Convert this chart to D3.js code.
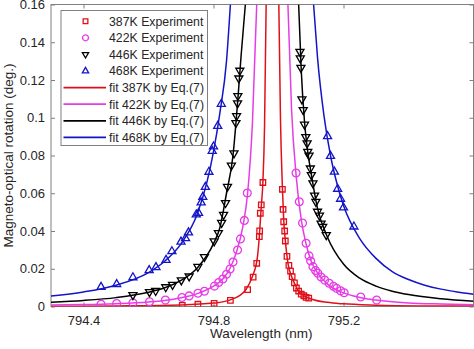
<!DOCTYPE html>
<html>
<head>
<meta charset="utf-8">
<script src="https://cdn.jsdelivr.net/npm/d3@7"></script>
<style>
  body { margin: 0; background: #fff; }
  svg { font-family: "Liberation Sans", Arial, sans-serif; }
</style>
</head>
<body>
<svg id="chart" width="474" height="349"></svg>
<script>
var w = 474;
var h = 349;

// experiment points [wavelength nm, rotation deg]
var exp387 = [[794.704,0.0006],[794.752,0.0012],[794.802,0.0017],[794.852,0.0032],[794.905,0.0089],
  [794.922,0.0156],[794.933,0.0229],[794.941,0.0370],[794.942,0.0401],[794.944,0.0494],[794.947,0.0538],
  [794.952,0.0657],
  [795.012,0.0621],[795.014,0.0514],[795.016,0.0449],[795.019,0.0400],[795.021,0.0347],[795.026,0.0266],
  [795.032,0.0218],[795.037,0.0188],[795.042,0.0158],[795.049,0.0125],[795.055,0.0098],[795.062,0.0082],
  [795.070,0.0065],[795.078,0.0057],[795.085,0.0048],[795.093,0.0044]];
var exp422 = [[794.454,0.0012],[794.502,0.0016],[794.552,0.0020],[794.603,0.0025],[794.652,0.0034],
  [794.703,0.0048],[794.725,0.0056],[794.752,0.0070],[794.772,0.0081],[794.803,0.0108],[794.816,0.0127],
  [794.829,0.0146],[794.840,0.0171],[794.851,0.0199],[794.860,0.0236],[794.874,0.0299],[794.883,0.0358],
  [794.895,0.0456],[794.904,0.0601],
  [795.054,0.0707],[795.064,0.0555],[795.074,0.0442],[795.085,0.0335],[795.094,0.0268],[795.099,0.0241],
  [795.106,0.0211],[795.114,0.0191],[795.121,0.0176],[795.131,0.0156],[795.142,0.0140],[795.156,0.0123],
  [795.169,0.0107],[795.179,0.0096],[795.191,0.0083],[795.202,0.0073],[795.253,0.0050],[795.302,0.0034]];
var exp446 = [[794.552,0.0061],[794.603,0.0077],[794.622,0.0083],[794.653,0.0103],[794.674,0.0115],
  [794.701,0.0139],[794.725,0.0160],[794.752,0.0211],[794.772,0.0263],[794.802,0.0346],[794.815,0.0390],
  [794.825,0.0444],[794.831,0.0486],[794.837,0.0549],[794.843,0.0635],[794.855,0.0747],[794.863,0.0812],
  [794.869,0.0973],[794.871,0.1010],[794.874,0.1077],[794.875,0.1116],[794.878,0.1209],[794.881,0.1250],
  [795.066,0.1350],[795.067,0.1315],[795.069,0.1265],[795.072,0.1098],[795.076,0.1041],[795.080,0.0964],
  [795.084,0.0898],[795.088,0.0865],[795.090,0.0820],[795.094,0.0800],[795.098,0.0732],[795.101,0.0697],
  [795.106,0.0653],[795.111,0.0588],[795.115,0.0555],[795.120,0.0503],[795.126,0.0482],[795.131,0.0440],
  [795.136,0.0423],[795.147,0.0379]];
var exp468 = [[794.454,0.0103],[794.502,0.0118],[794.552,0.0154],[794.602,0.0192],[794.623,0.0208],
  [794.654,0.0246],[794.672,0.0292],[794.700,0.0343],[794.714,0.0361],[794.723,0.0392],[794.747,0.0487],
  [794.754,0.0495],[794.762,0.0551],[794.767,0.0580],[794.775,0.0633],[794.786,0.0713],[794.796,0.0824],
  [794.800,0.0847],[794.813,0.0956],[794.824,0.1073],
  [795.151,0.0902],[795.160,0.0797],[795.172,0.0714],[795.182,0.0623],[795.191,0.0570],[795.200,0.0524],
  [795.232,0.0423]];

// fit curves, left and right branch of each
var fit387L = [[794.30,0.0001],[794.50,0.0003],[794.70,0.0008],[794.80,0.0018],[794.85,0.0034],[794.88,0.0058],
  [794.90,0.0090],[794.92,0.0160],[794.935,0.026],[794.94,0.035],[794.947,0.053],[794.952,0.066],[794.957,0.095],[794.962,0.16]];
var fit387R = [[795.001,0.16],[795.006,0.100],[795.012,0.063],[795.016,0.046],[795.021,0.035],[795.03,0.022],
  [795.04,0.016],[795.05,0.012],[795.06,0.0085],[795.08,0.0055],[795.10,0.0040],[795.15,0.0022],[795.20,0.0014],
  [795.30,0.0007],[795.45,0.0003],[795.60,0.0002]];
var fit422L = [[794.30,0.0008],[794.40,0.0010],[794.50,0.0015],[794.60,0.0024],[794.65,0.0032],[794.70,0.0046],
  [794.75,0.0068],[794.80,0.0108],[794.83,0.0148],[794.85,0.0200],[794.87,0.0285],[794.89,0.042],[794.905,0.060],
  [794.92,0.098],[794.933,0.16]];
var fit422R = [[795.029,0.16],[795.04,0.105],[795.055,0.068],[795.07,0.046],[795.085,0.033],[795.10,0.0243],
  [795.12,0.0178],[795.15,0.0120],[795.20,0.0072],[795.25,0.0048],[795.30,0.0034],[795.40,0.0019],[795.50,0.0013],[795.60,0.0009]];
var fit446L = [[794.30,0.0023],[794.40,0.0032],[794.50,0.0047],[794.60,0.0075],[794.65,0.0099],[794.70,0.0138],
  [794.75,0.0204],[794.80,0.0333],[794.82,0.042],[794.84,0.060],[794.86,0.080],[794.875,0.110],[794.885,0.133],[794.898,0.16]];
var fit446R = [[795.062,0.16],[795.07,0.125],[795.08,0.098],[795.09,0.082],[795.10,0.071],[795.12,0.052],
  [795.15,0.037],[795.20,0.0225],[795.25,0.0150],[795.30,0.0108],[795.35,0.0081],[795.40,0.0063],[795.50,0.0041],[795.60,0.0028]];
var fit468L = [[794.30,0.0056],[794.40,0.0077],[794.50,0.0113],[794.60,0.0180],[794.65,0.0240],[794.70,0.0332],
  [794.75,0.049],[794.78,0.066],[794.80,0.082],[794.82,0.103],[794.84,0.130],[794.852,0.16]];
var fit468R = [[795.108,0.16],[795.12,0.132],[795.14,0.101],[795.16,0.080],[795.18,0.065],[795.20,0.0535],
  [795.25,0.036],[795.30,0.0255],[795.35,0.0185],[795.40,0.0143],[795.45,0.0113],[795.50,0.0092],[795.55,0.0077],[795.60,0.0065]];

var xTicks = [794.4, 794.8, 795.2, 795.6];
var yTicks = [0, 0.02, 0.04, 0.06, 0.08, 0.1, 0.12, 0.14, 0.16];

var red = "#e0101a", magenta = "#e63ce6", black = "#000000", blue = "#1414c8";

var series = [
  {name: "387K", color: red, shape: "square", exp: exp387, fit: [fit387L, fit387R]},
  {name: "422K", color: magenta, shape: "circle", exp: exp422, fit: [fit422L, fit422R]},
  {name: "446K", color: black, shape: "down", exp: exp446, fit: [fit446L, fit446R]},
  {name: "468K", color: blue, shape: "up", exp: exp468, fit: [fit468L, fit468R]}
];

var pL = 51, pR = 473.5, pT = 4.5, pB = 306.5;

var x = d3.scaleLinear().domain([794.3, 795.6]).range([pL, pR]);
var y = d3.scaleLinear().domain([0, 0.16]).range([pB, pT]);

var svg = d3.select("#chart");

svg.append("defs").append("clipPath").attr("id", "clip")
  .append("rect").attr("x", pL).attr("y", pT)
  .attr("width", pR - pL).attr("height", pB - pT);

var axisColor = "#808080";
var textColor = "#262626";

// axes with inner ticks
var gx = svg.append("g").attr("transform", "translate(0," + pB + ")")
  .call(d3.axisBottom(x).tickValues(xTicks.slice(0, 3)).tickSizeInner(-4).tickSizeOuter(0).tickPadding(9).tickFormat(d3.format(".1f")));
var gxt = svg.append("g").attr("transform", "translate(0," + pT + ")")
  .call(d3.axisTop(x).tickValues(xTicks).tickSizeInner(-4).tickSizeOuter(0).tickFormat(""));
var gy = svg.append("g").attr("transform", "translate(" + pL + ",0)")
  .call(d3.axisLeft(y).tickValues(yTicks).tickSizeInner(-4).tickSizeOuter(0).tickPadding(6).tickFormat(d3.format(".2~f")));
var gyr = svg.append("g").attr("transform", "translate(" + pR + ",0)")
  .call(d3.axisRight(y).tickValues(yTicks).tickSizeInner(-4).tickSizeOuter(0).tickFormat(""));

[gx, gxt, gy, gyr].forEach(function(g) {
  g.select(".domain").remove();
  g.selectAll(".tick line").attr("stroke", axisColor);
  g.selectAll("text").attr("fill", textColor).style("font-size", "13px");
});

svg.append("rect")
  .attr("x", pL).attr("y", pT)
  .attr("width", pR - pL).attr("height", pB - pT)
  .attr("fill", "none").attr("stroke", axisColor).attr("stroke-width", 1);

svg.append("text")
  .attr("x", (pL + pR) / 2 - 1).attr("y", 338)
  .attr("text-anchor", "middle").attr("fill", textColor)
  .style("font-size", "13.5px")
  .text("Wavelength (nm)");

svg.append("text")
  .attr("transform", "translate(13," + ((pT + pB) / 2) + ") rotate(-90)")
  .attr("text-anchor", "middle").attr("fill", textColor)
  .style("font-size", "13.5px")
  .text("Magneto-optical rotation (deg.)");

var plot = svg.append("g").attr("clip-path", "url(#clip)");

var line = d3.line()
  .x(function(d) { return x(d[0]); })
  .y(function(d) { return y(d[1]); })
  .curve(d3.curveMonotoneX);

// marker sizes: plot vs legend (legend markers are drawn smaller)
function markerPath(shape, small) {
  if (shape == "square") return d3.symbol().type(d3.symbolSquare).size(small ? 22 : 30)();
  if (shape == "circle") return d3.symbol().type(d3.symbolCircle).size(small ? 28 : 48)();
  return d3.symbol().type(d3.symbolTriangle).size(small ? 17 : 28)();
}

function drawMarker(g, shape, color, px, py, small) {
  g.append("path")
    .attr("d", markerPath(shape, small))
    .attr("transform", "translate(" + px + "," + py + ")" + (shape == "down" ? " rotate(180)" : ""))
    .attr("fill", "none")
    .attr("stroke", color)
    .attr("stroke-width", 1.3);
}

// fit lines first, then markers on top
series.forEach(function(s) {
  s.fit.forEach(function(branch) {
    plot.append("path")
      .datum(branch)
      .attr("d", line)
      .attr("fill", "none")
      .attr("stroke", s.color)
      .attr("stroke-width", 1.5);
  });
});

series.forEach(function(s) {
  var g = plot.append("g");
  s.exp.forEach(function(d) {
    drawMarker(g, s.shape, s.color, x(d[0]), y(d[1]), false);
  });
});

// legend
var lg = svg.append("g");
lg.append("rect")
  .attr("x", 61).attr("y", 10.5)
  .attr("width", 146.5).attr("height", 135)
  .attr("fill", "#fff").attr("stroke", axisColor).attr("stroke-width", 1);

var rowY = 21.2, rowStep = 16.6;
series.forEach(function(s, i) {
  var yy = rowY + i * rowStep;
  drawMarker(lg, s.shape, s.color, 85.5, yy, true);
  lg.append("text")
    .attr("x", 109).attr("y", yy + 4.3)
    .attr("fill", textColor).style("font-size", "12.3px")
    .text(s.name + " Experiment");
});
series.forEach(function(s, i) {
  var yy = rowY + (i + 4) * rowStep;
  lg.append("line")
    .attr("x1", 63.5).attr("x2", 106)
    .attr("y1", yy).attr("y2", yy)
    .attr("stroke", s.color).attr("stroke-width", 1.8);
  lg.append("text")
    .attr("x", 109).attr("y", yy + 4.3)
    .attr("fill", textColor).style("font-size", "12.3px")
    .text("fit " + s.name + " by Eq.(7)");
});
</script>
</body>
</html>
